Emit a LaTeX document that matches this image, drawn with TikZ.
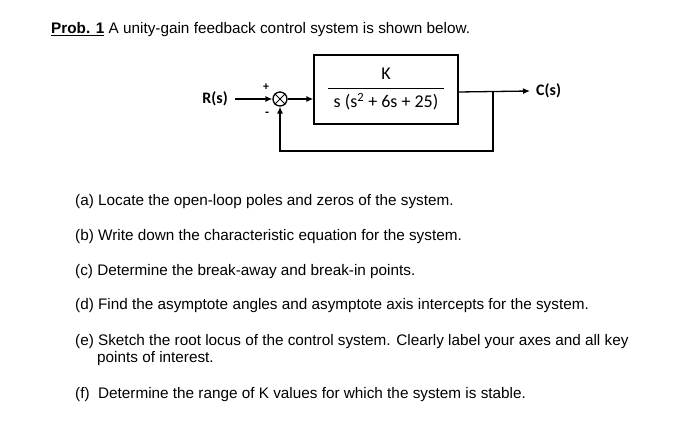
\documentclass[tikz,border=0pt]{standalone}
\usepackage{fontspec}
\setmainfont{Liberation Sans}
\newfontfamily\calfont{Carlito}
\usetikzlibrary{arrows.meta}
\begin{document}
\begin{tikzpicture}[x=1pt,y=-1pt,
  txt/.style={anchor=base west,inner sep=0pt,font=\fontsize{15.3}{18}\selectfont},
  lab/.style={inner sep=0pt,font=\calfont\fontsize{18}{20}\selectfont},
  sig/.style={line width=1.3pt},
  arr/.style={sig,-{Latex[length=7pt,width=6pt]}}]
\useasboundingbox (0,0) rectangle (700,422);
\node[txt] (title) at (51,34) {\textbf{\underline{Prob. 1}} A unity-gain feedback control system is shown below.};
\node[draw,sig,circle,minimum size=14pt,inner sep=0pt] (sum) at (280,99) {};
\draw[line width=0.9pt] (sum.north west)--(sum.south east) (sum.north east)--(sum.south west);
\node[draw,sig,minimum width=144pt,minimum height=69pt,inner sep=0pt] (blk) at (386,89.5) {};
\node[lab] (num) at (386,74) {K};
\node[lab] (den) at (386,102) {s (s\textsuperscript{2} + 6s + 25)};
\draw[line width=0.6pt] (328,88)--(444,88);
\node[lab,anchor=east,font=\calfont\bfseries\fontsize{16}{18}\selectfont] (R) at (228,99) {R(s)};
\node[lab,anchor=west,font=\calfont\bfseries\fontsize{16}{18}\selectfont] (C) at (536,91) {C(s)};
\node[lab,font=\calfont\bfseries\fontsize{12}{12}\selectfont] (plus) at (266,87) {+};
\node[lab,font=\calfont\bfseries\fontsize{13}{12}\selectfont] (minus) at (267,114) {-};
\draw[arr] (R.east)++(7,0) coordinate (r0) -- (sum.west);
\draw[arr] (sum.east) -- (blk.west|-sum);
\coordinate (br) at (493,92);
\draw[arr] (blk.east|-br) -- ([xshift=-6pt]C.west);
\draw[arr] (br) -- (493,151) -- (sum|-0,151) -- (sum.south);
\node[txt] (a) at (75,205) {(a) Locate the open-loop poles and zeros of the system.};
\node[txt] (b) at (75,240) {(b) Write down the characteristic equation for the system.};
\node[txt] (c) at (75,275) {(c) Determine the break-away and break-in points.};
\node[txt] (d) at (75,309) {(d) Find the asymptote angles and asymptote axis intercepts for the system.};
\node[txt] (e) at (75,345) {(e) Sketch the root locus of the control system. Clearly label your axes and all key};
\node[txt] (e2) at (97,362) {points of interest.};
\node[txt] (f) at (75,398) {(f)\; Determine the range of K values for which the system is stable.};
\end{tikzpicture}
\end{document}
